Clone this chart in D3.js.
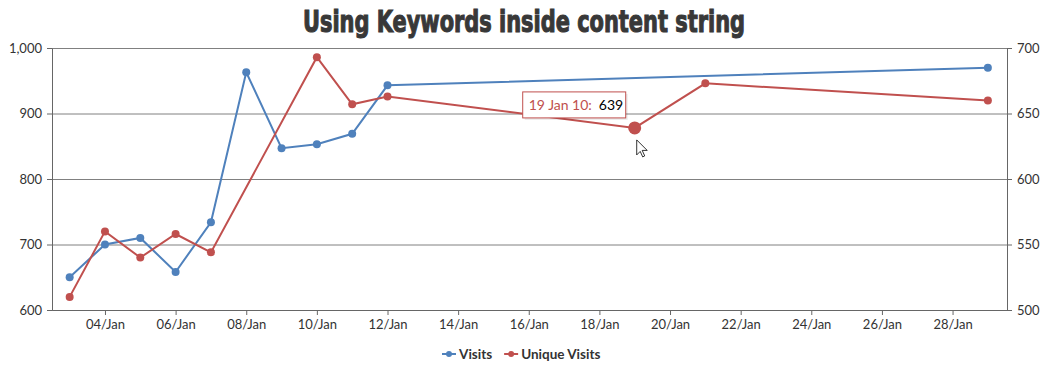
<!DOCTYPE html>
<html>
<head>
<meta charset="utf-8">
<script src="https://cdn.jsdelivr.net/npm/d3@7"></script>
<style>
  body { margin: 0; background: #fff; }
  .tick text { font-family: Lato, sans-serif; font-size: 13px; fill: #333; }
  .axis path, .axis line { stroke: #666; }
  .grid line { stroke: #808080; }
  .grid path { stroke: none; }
</style>
</head>
<body>
<div class="vis-linechart"></div>
<script>
const visitDays = [3, 4, 5, 6, 7, 8, 9, 10, 11, 12, 29];
const visitValues = [650, 700, 710, 658, 734, 963, 847, 853, 869, 943, 970];
const uniqueDays = [3, 4, 5, 6, 7, 10, 11, 12, 19, 21, 29];
const uniqueValues = [510, 560, 540, 558, 544, 693, 657, 663, 639, 673, 660];
const leftTicks = [600, 700, 800, 900, 1000];
const rightTicks = [500, 550, 600, 650, 700];
const seriesNames = ['Visits', 'Unique Visits'];
const tooltipDay = 19;

const draw = () => {
  const W = 1047, H = 368;
  const margin = { top: 48, right: 40, bottom: 58, left: 52 };
  const width = W - margin.left - margin.right;
  const height = H - margin.top - margin.bottom;
  const colors = ['#4F81BC', '#C0504E'];

  const svgRoot = d3.select('.vis-linechart').append('svg')
    .attr('width', W).attr('height', H);

  // title
  svgRoot.append('text')
    .attr('x', 524).attr('y', 32)
    .attr('text-anchor', 'middle')
    .attr('textLength', 442).attr('lengthAdjust', 'spacingAndGlyphs')
    .style('font-family', "Impact, 'DejaVu Sans Condensed', sans-serif")
    .style('font-weight', 'bold').style('font-size', '30px')
    .style('fill', '#383838').style('stroke', '#383838').style('stroke-width', 1.1)
    .text('Using Keywords inside content string');

  const svg = svgRoot.append('g')
    .attr('transform', `translate(${margin.left},${margin.top})`);

  const day = (d) => new Date(2010, 0, d);
  const visits = visitDays.map((d, i) => ({ x: day(d), y: visitValues[i] }));
  const unique = uniqueDays.map((d, i) => ({ x: day(d), y: uniqueValues[i] }));

  const first = day(d3.min(visitDays.concat(uniqueDays)));
  const last = day(d3.max(visitDays.concat(uniqueDays)));
  const x = d3.scaleTime()
    .domain([d3.timeHour.offset(first, -11.5), d3.timeHour.offset(last, 13)])
    .range([0, width]);
  const y = d3.scaleLinear().domain(d3.extent(leftTicks)).range([height, 0]);
  const y2 = d3.scaleLinear().domain(d3.extent(rightTicks)).range([height, 0]);

  // gridlines
  svg.append('g').attr('class', 'grid')
    .call(d3.axisLeft(y).tickValues(leftTicks).tickSize(-width).tickFormat(''));

  // axes
  const xTicks = d3.range(4, 29, 2).map(day);
  svg.append('g').attr('class', 'axis')
    .attr('transform', `translate(0,${height})`)
    .call(d3.axisBottom(x).tickValues(xTicks).tickSize(5).tickPadding(5)
      .tickSizeOuter(0).tickFormat(d3.timeFormat('%d/%b')));
  svg.append('g').attr('class', 'axis')
    .call(d3.axisLeft(y).tickValues(leftTicks).tickSize(5).tickPadding(5)
      .tickSizeOuter(0).tickFormat(d3.format(',')));
  svg.append('g').attr('class', 'axis')
    .attr('transform', `translate(${width},0)`)
    .call(d3.axisRight(y2).tickValues(rightTicks).tickSize(5).tickPadding(5)
      .tickSizeOuter(0));

  // lines
  const series = [
    { data: visits, scale: y },
    { data: unique, scale: y2 }
  ];
  series.forEach((s, i) => {
    const line = d3.line().x((d) => x(d.x)).y((d) => s.scale(d.y));
    svg.append('path').datum(s.data)
      .attr('fill', 'none').attr('stroke', colors[i])
      .attr('stroke-width', 2).attr('d', line);
    svg.selectAll(`.dot${i}`).data(s.data).enter().append('circle')
      .attr('cx', (d) => x(d.x)).attr('cy', (d) => s.scale(d.y))
      .attr('r', (d) => (i === 1 && d.x.getDate() === tooltipDay ? 6.5 : 4))
      .attr('fill', colors[i]);
  });

  // tooltip
  const tp = unique.find((d) => d.x.getDate() === tooltipDay);
  const tx = x(tp.x) - 112, ty = y2(tp.y) - 36;
  const tip = svg.append('g').attr('transform', `translate(${tx},${ty})`);
  tip.append('rect').attr('x', 2).attr('y', 2).attr('width', 103).attr('height', 26)
    .attr('fill', 'rgba(0,0,0,0.08)');
  tip.append('rect').attr('width', 103).attr('height', 26)
    .attr('fill', '#fff').attr('stroke', '#C0504E').attr('stroke-width', 1);
  const tt = tip.append('text').attr('x', 6).attr('y', 18)
    .style('font-family', 'Lato, sans-serif').style('font-size', '14px');
  tt.append('tspan').attr('fill', '#C0504E')
    .text(`${d3.timeFormat('%d %b %y')(tp.x)}:`);
  tt.append('tspan').attr('fill', '#000').attr('dx', 7).text(tp.y);

  // mouse cursor
  svg.append('path')
    .attr('transform', `translate(${x(tp.x) + 2},${y2(tp.y) + 12})`)
    .attr('d', 'M0,0 L0,15 L3.5,11.5 L6,17 L8,16 L5.5,10.5 L10.5,10.5 Z')
    .attr('fill', '#fff').attr('stroke', '#000').attr('stroke-width', 0.8);

  // legend
  const legend = svgRoot.append('g').attr('transform', 'translate(442,354)');
  let off = 0;
  seriesNames.forEach((name, i) => {
    const g = legend.append('g').attr('transform', `translate(${off},0)`);
    g.append('line').attr('x1', 0).attr('x2', 14)
      .attr('stroke', colors[i]).attr('stroke-width', 2);
    g.append('circle').attr('cx', 7).attr('r', 3).attr('fill', colors[i]);
    const t = g.append('text').attr('x', 17).attr('y', 5)
      .style('font-family', 'Lato, sans-serif').style('font-size', '13.5px')
      .style('font-weight', 'bold').style('fill', '#333').text(name);
    off += 17 + t.node().getComputedTextLength() + 12;
  });
};

draw();
</script>
</body>
</html>
